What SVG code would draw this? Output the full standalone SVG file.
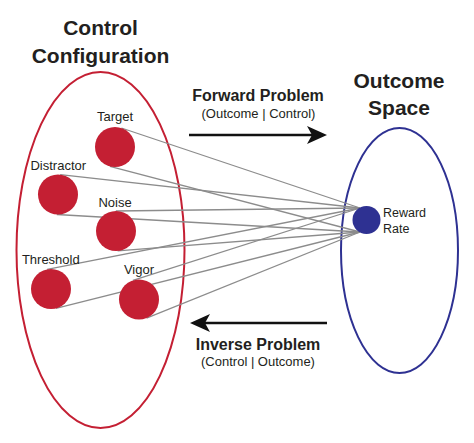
<svg xmlns="http://www.w3.org/2000/svg" width="474" height="443" viewBox="0 0 474 443">
<style>
text{font-family:"Liberation Sans",Arial,sans-serif;fill:#231f20}
.title{font-size:21px;font-weight:bold;text-anchor:middle}
.head{font-size:16px;font-weight:bold;text-anchor:middle}
.sub{font-size:13px;text-anchor:middle}
.lbl{font-size:13px;text-anchor:middle}
.rn{fill:#c41f33}
.conn line{stroke:#8c8c8c;stroke-width:1.3}
.arrow{stroke:#111;stroke-width:2.6;fill:none}
</style>
<defs>
<marker id="ah" markerUnits="userSpaceOnUse" markerWidth="20" markerHeight="18" refX="8" refY="9" orient="auto" overflow="visible">
<path d="M0,0 L20,9 L0,18 L5,9 Z" fill="#111"/>
</marker>
</defs>
<rect width="474" height="443" fill="#fff"/>
<g id="control-space">
<ellipse cx="100.5" cy="250" rx="84" ry="178" fill="none" stroke="#c41f33" stroke-width="2"/>
<text class="title" x="100.5" y="35">Control</text>
<text class="title" x="100.5" y="63">Configuration</text>
</g>
<g id="outcome-space">
<ellipse cx="399.5" cy="250.5" rx="58.5" ry="122.5" fill="none" stroke="#2e3192" stroke-width="2"/>
<text class="title" x="399" y="88">Outcome</text>
<text class="title" x="399" y="115">Space</text>
</g>
<g id="forward-problem">
<line class="arrow" x1="189" y1="135" x2="315" y2="135" marker-end="url(#ah)"/>
<text class="head" x="258" y="101">Forward Problem</text>
<text class="sub" x="258.5" y="118">(Outcome | Control)</text>
</g>
<g id="inverse-problem">
<line class="arrow" x1="327" y1="323" x2="202" y2="323" marker-end="url(#ah)"/>
<text class="head" x="258" y="350">Inverse Problem</text>
<text class="sub" x="258" y="366">(Control | Outcome)</text>
</g>
<g id="connectors" class="conn">
<line x1="121.4" y1="128" x2="360" y2="208"/>
<line x1="109.9" y1="166.4" x2="360" y2="232"/>
<line x1="60.2" y1="174.6" x2="360" y2="208"/>
<line x1="56.8" y1="214.5" x2="360" y2="232"/>
<line x1="115.8" y1="211" x2="360" y2="208"/>
<line x1="117.6" y1="250.9" x2="360" y2="232"/>
<line x1="47.2" y1="269.4" x2="360" y2="208"/>
<line x1="55.9" y1="308.4" x2="360" y2="232"/>
<line x1="132.9" y1="280.4" x2="360" y2="208"/>
<line x1="146.5" y1="318.1" x2="360" y2="232"/>
</g>
<g id="target">
<circle class="rn" cx="115" cy="147" r="20"/>
<text class="lbl" x="115" y="121">Target</text>
</g>
<g id="distractor">
<circle class="rn" cx="58" cy="194.5" r="20"/>
<text class="lbl" x="58.3" y="169.5">Distractor</text>
</g>
<g id="noise">
<circle class="rn" cx="116" cy="231" r="20"/>
<text class="lbl" x="115" y="206.5">Noise</text>
</g>
<g id="threshold">
<circle class="rn" cx="51" cy="289" r="20"/>
<text class="lbl" x="50.8" y="264">Threshold</text>
</g>
<g id="vigor">
<circle class="rn" cx="139" cy="299.5" r="20"/>
<text class="lbl" x="139" y="274">Vigor</text>
</g>
<g id="reward-rate">
<circle cx="366.5" cy="220" r="14" fill="#2e3192"/>
<text x="383" y="216.5" font-size="12.5">Reward</text>
<text x="383" y="233" font-size="12.5">Rate</text>
</g>
</svg>
